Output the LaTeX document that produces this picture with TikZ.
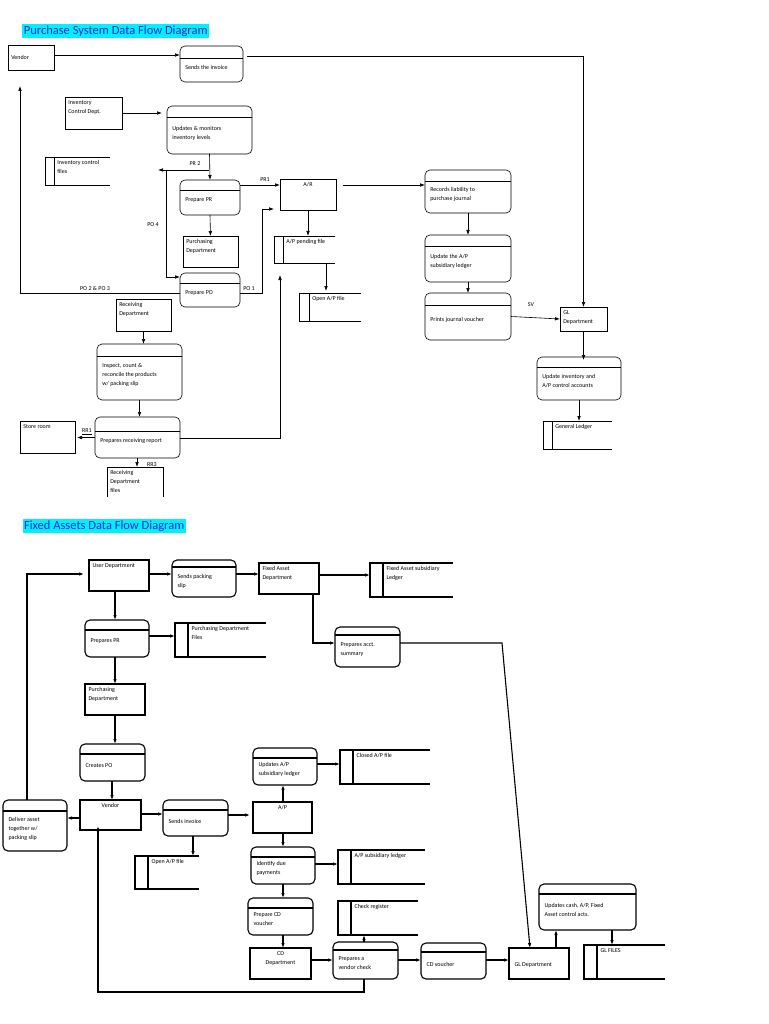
\documentclass[tikz,border=0pt]{standalone}
\usepackage{fontspec}
\setmainfont{Carlito}
\usetikzlibrary{arrows.meta,calc}
\definecolor{hl}{RGB}{0,240,255}
\definecolor{tb}{RGB}{30,40,220}
\tikzset{
  box/.style={draw, inner sep=0pt, outer sep=0pt},
  pbox/.style={draw, rounded corners=5pt, inner sep=0pt, outer sep=0pt},
  sbox/.style={inner sep=0pt, outer sep=0pt},
  lab/.style={anchor=north west, inner sep=3pt, font=\fontsize{6}{9}\selectfont, align=left},
  plab/.style={anchor=west, inner sep=5pt, font=\fontsize{6}{9}\selectfont, align=left},
  clab/.style={anchor=north, inner sep=3pt, font=\fontsize{6}{9}\selectfont, align=center},
  flow/.style={font=\fontsize{6}{7}\selectfont, inner sep=1pt},
  arr/.style={-{Latex[length=5pt,width=3.6pt]}},
  title/.style={fill=hl, text=tb, font=\fontsize{12.5}{14}\selectfont, inner sep=1.5pt, anchor=west},
}
\newcommand\ent[6]{\node[box, minimum width={(#4-#2)*1pt}, minimum height={(#5-#3)*1pt}, label={[lab]north west:{#6}}] (#1) at ({(#2+#4)/2},{(#3+#5)/2}) {};}
\newcommand\entc[6]{\node[box, minimum width={(#4-#2)*1pt}, minimum height={(#5-#3)*1pt}, label={[clab]north:{#6}}] (#1) at ({(#2+#4)/2},{(#3+#5)/2}) {};}
\newcommand\proc[7]{\node[pbox, minimum width={(#4-#2)*1pt}, minimum height={(#5-#3)*1pt}, label={[plab,yshift=-3pt]west:{#7}}] (#1) at ({(#2+#4)/2},{(#3+#5)/2}) {};
  \draw ([yshift=-#6pt]#1.north west) -- ([yshift=-#6pt]#1.north east);}
\newcommand\store[7]{\node[sbox, minimum width={(#4-#2)*1pt}, minimum height={(#5-#3)*1pt}, label={[lab,xshift=#6pt]north west:{#7}}] (#1) at ({(#2+#4)/2},{(#3+#5)/2}) {};
  \draw (#1.north east) -- (#1.north west) -- (#1.south west) -- (#1.south east);
  \draw ([xshift=#6pt]#1.north west) -- ([xshift=#6pt]#1.south west);}
\begin{document}
\begin{tikzpicture}[x=1pt,y=-1pt]
\useasboundingbox (0,0) rectangle (768,1024);
% ================= TOP =================
\begin{scope}[line width=0.6pt]
\node[title] (t1) at (22,31) {Purchase System Data Flow Diagram};
\node[box, minimum width=46pt, minimum height=25pt, label={[plab,inner sep=3pt]west:{Vendor}}] (vendor) at (31,57.5) {};
\proc{sends}{180}{46}{243}{82}{12}{Sends the invoice}
\ent{icd}{65}{97}{122}{129}{Inventory\\Control Dept.}
\proc{updinv}{167}{106}{252}{154}{11}{Updates \& monitors\\inventory levels}
\store{icf}{45}{157}{110}{185}{9}{Inventory control\\files}
\proc{prpr}{180}{180}{240}{215}{10}{Prepare PR}
\entc{ar}{280}{179}{336}{210}{A/R}
\ent{pd}{183}{236}{238}{267}{Purchasing\\Department}
\store{apf}{274}{236}{335}{263}{9}{A/P pending file}
\proc{prpo}{180}{273}{240}{307}{10}{Prepare PO}
\store{oapf}{299}{293}{361}{321}{10}{Open A/P file}
\ent{rcv}{116}{299}{171}{331}{Receiving\\Department}
\proc{insp}{97}{344}{182}{400}{12}{Inspect, count \&\\reconcile the products\\w/ packing slip}
\proc{prr}{95}{417}{180}{458}{14}{Prepares receiving report}
\ent{sr}{20}{421}{75}{453}{Store room}
\node[sbox, minimum width=56pt, minimum height=30pt, label={[lab]north west:{Receiving\\Department\\files}}] (rdf) at (135,482) {};
\draw (rdf.south west) -- (rdf.north west) -- (rdf.north east) -- (rdf.south east);
\proc{rec}{425}{170}{511}{213}{11}{Records liability to\\purchase journal}
\proc{uap}{425}{235}{511}{282}{11}{Update the A/P\\subsidiary ledger}
\proc{pjv}{425}{293}{511}{340}{12}{Prints journal voucher}
\ent{gl}{560}{307}{607}{331}{GL\\Department}
\proc{uica}{537}{357}{621}{400}{10}{Update inventory and\\A/P control accounts}
\store{gled}{543}{421}{612}{449}{9}{General Ledger}
% connectors
\draw[arr] (vendor.east |- 0,55) -- (sends.west |- 0,55);
\draw[arr] ([xshift=4pt]sends.east |- 0,56) -| (gl.north);
\coordinate (vup) at (20,86);
\draw[arr] (prpo.west |- 0,293) -| (vup);
\node[flow, anchor=south] at (95,292) {PO 2 \& PO 3};
\draw[arr] (icd.east) -- ([xshift=-5pt]updinv.west |- icd.east);
\draw[arr] (updinv.south) -- (prpr.north);
\node[flow, anchor=south] at (195,167) {PR 2};
\coordinate (j1) at (209,170);
\coordinate (j2) at (158,170);
\draw[arr] (j1) -- (j2);
\draw[arr] (166,170) -- (166,277) -- (prpo.west |- 0,277);
\node[flow] at (153,225) {PO 4};
\draw[arr] (prpr.east |- 0,185) -- (ar.west |- 0,185);
\node[flow, anchor=south] at (265,183) {PR1};
\draw[arr] (prpr.south) -- (pd.north);
\draw[arr] (prpo.east |- 0,293) -- (262,293) -- (262,209) -- ([xshift=-6pt]ar.west |- 0,209);
\node[flow, anchor=south] at (249,292) {PO 1};
\draw[arr] (ar.south) -- (apf.north -| ar.south);
\draw[arr] (326,263) -- (326,291);
\draw (343,185) -- (365,185);
\draw[arr] (365,185) -- (rec.west |- 0,185);
\draw[arr] (rcv.south) -- (insp.north -| rcv.south);
\draw[arr] (insp.south) -- (prr.north -| insp.south);
\draw[arr] (prr.west) -- ([xshift=2pt]sr.east |- prr.west);
\node[flow, anchor=south] at (87,436) {\underline{RR1}};
\draw[arr] ([yshift=-0.5pt]prr.east) -| (280,275);
\draw[arr] (137,458) -- (rdf.north -| 137,0);
\node[flow] at (152,465) {RR3};
\draw[arr] (rec.south) -- (uap.north);
\draw[arr] (uap.south) -- (pjv.north);
\draw[arr] (pjv.east) -- (gl.west);
\node[flow] at (531,305) {SV};
\draw[arr] (gl.south) -- ([yshift=-3pt]uica.north -| gl.south);
\draw[arr] (uica.south) -- (gled.north -| uica.south);
\end{scope}
% ================= BOTTOM =================
\begin{scope}[line width=1.1pt]
\node[title] (t2) at (22,526) {Fixed Assets Data Flow Diagram};
\ent{ud}{89}{560}{149}{591}{User Department}
\proc{spk}{172}{560}{236}{597}{7}{Sends packing\\slip}
\ent{fad}{259}{563}{319}{594}{Fixed Asset\\Department}
\store{fasl}{370}{563}{453}{597}{13}{Fixed Asset subsidiary\\Ledger}
\proc{pas}{335}{627}{400}{667}{8}{Prepares acct.\\summary}
\proc{ppr}{85}{620}{149}{657}{10}{Prepares PR}
\store{pdf}{175}{623}{266}{657}{13}{Purchasing Department\\Files}
\ent{pdb}{85}{684}{145}{715}{Purchasing\\Department}
\proc{cpo}{80}{744}{145}{781}{10}{Creates PO}
\entc{vb}{80}{800}{141}{830}{Vendor}
\proc{dlv}{3}{800}{67}{851}{11}{Deliver asset\\together w/\\packing slip}
\proc{sinv}{163}{800}{228}{836}{10}{Sends invoice}
\store{oap}{135}{856}{199}{889}{13}{Open A/P file}
\entc{ap}{253}{802}{312}{833}{A/P}
\proc{uaps}{253}{748}{317}{785}{10}{Updates A/P\\subsidiary ledger}
\store{cap}{340}{750}{430}{784}{13}{Closed A/P file}
\proc{idp}{251}{847}{315}{884}{10}{Identify due\\payments}
\store{apsl}{338}{850}{425}{884}{13}{A/P subsidiary ledger}
\proc{pcd}{248}{898}{313}{935}{10}{Prepare CD\\voucher}
\entc{cdd}{250}{948}{311}{979}{CD\\Department}
\store{ckr}{338}{901}{418}{935}{13}{Check register}
\proc{pvc}{333}{942}{398}{979}{8}{Prepares a\\vendor check}
\proc{cdv}{421}{943}{486}{979}{9}{CD voucher}
\node[box, minimum width=60pt, minimum height=31pt, label={[plab,yshift=-2pt]west:{GL Department}}] (gld) at (539,963.5) {};
\proc{ucash}{539}{884}{636}{930}{10}{Updates cash, A/P, Fixed\\Asset control acts.}
\store{glf}{584}{945}{665}{979}{13}{GL FILES}
% connectors
\draw[arr] (ud.east |- 0,574) -- (spk.west |- 0,574);
\draw[arr] (spk.east |- 0,574) -- (fad.west |- 0,574);
\draw[arr] (fad.east |- 0,575) -- (fasl.west |- 0,575);
\draw[arr] (313,594) -- (313,643) -- (pas.west |- 0,643);
\draw[arr] (pas.east |- 0,643) -- (502,643) -- (gld.north -| 530,0);
\draw[arr] (115,591) -- (ppr.north -| 115,0);
\draw[arr] (ppr.east |- 0,636) -- (pdf.west |- 0,636);
\draw[arr] (115,657) -- (pdb.north -| 115,0);
\draw[arr] (115,715) -- (cpo.north -| 115,0);
\draw[arr] (112,781) -- (vb.north -| 112,0);
\draw[arr] (vb.west |- 0,818) -- (dlv.east |- 0,818);
\draw[arr] (27,800) -- (27,574) -- ([xshift=-5pt]ud.west |- 0,574);
\draw[arr] (vb.east |- 0,814) -- (sinv.west |- 0,814);
\draw[arr] (sinv.east |- 0,815) -- ([xshift=-3pt]ap.west |- 0,815);
\draw[arr] (193,836) -- (oap.north -| 193,0);
\draw[arr] (283,802) -- (uaps.south -| 283,0);
\draw[arr] (uaps.east |- 0,764) -- (cap.west |- 0,764);
\draw[arr] (283,833) -- (idp.north -| 283,0);
\draw[arr] (idp.east |- 0,864) -- (apsl.west |- 0,864);
\draw[arr] (283,884) -- (pcd.north -| 283,0);
\draw[arr] (283,935) -- (cdd.north -| 283,0);
\draw[arr] (cdd.east |- 0,960) -- (pvc.west |- 0,960);
\draw[arr] (364,942) -- (ckr.south -| 364,0);
\draw[arr] (364,979) -- (364,992) -- (98,992) -- ([yshift=4pt]vb.south -| 98,0);
\draw[arr] (pvc.east |- 0,960) -- (cdv.west |- 0,960);
\draw[arr] (cdv.east |- 0,960) -- (gld.west |- 0,960);
\draw[arr] (556,948) -- (ucash.south -| 556,0);
\draw[arr] (612,930) -- (glf.north -| 612,0);
\end{scope}
\end{tikzpicture}
\end{document}
